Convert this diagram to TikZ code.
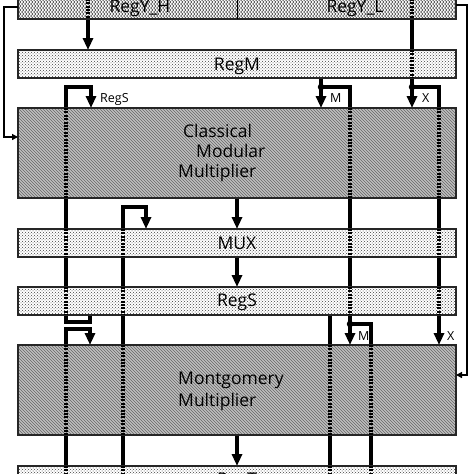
\documentclass[tikz,border=0pt]{standalone}
\usepackage{fontspec}
\setmainfont{Open Sans}
\usetikzlibrary{arrows.meta,patterns}
\pgfdeclarepatternformonly{chev}{\pgfqpoint{-1pt}{-1pt}}{\pgfqpoint{4pt}{5pt}}{\pgfqpoint{3pt}{4pt}}{%
  \pgfsetlinewidth{0.6pt}%
  \pgfpathmoveto{\pgfqpoint{3pt}{0pt}}%
  \pgfpathlineto{\pgfqpoint{0.6pt}{2pt}}%
  \pgfpathlineto{\pgfqpoint{3pt}{4pt}}%
  \pgfusepath{stroke}}
\begin{document}
\begin{tikzpicture}[x=1pt,y=-1pt,
  box/.style={draw=black!85,line width=1.1pt,minimum width=438pt,inner sep=0pt,outer sep=0pt},
  lightbox/.style={box,minimum height=28pt,preaction={fill=white},pattern=crosshatch dots,pattern color=black!75},
  darkbox/.style={box,minimum height=90pt,preaction={fill=gray!50},pattern=north west lines,pattern color=black!60},
  ybox/.style={box,minimum height=45pt,preaction={fill=white},pattern=chev,pattern color=black!70},
  bus/.style={line width=3.8pt},
  busarrow/.style={bus,-{Triangle[width=10pt,length=12pt]}},
  dotbus/.style={line width=3.8pt,dash pattern=on 2pt off 1.4pt},
  thin/.style={line width=1.3pt},
  thinarrow/.style={thin,-{Triangle[width=6pt,length=6pt]}},
  lbl/.style={inner sep=0pt,anchor=base west,font=\fontsize{17.5}{20}\selectfont},
  clbl/.style={inner sep=0pt,anchor=base,font=\fontsize{17.5}{20}\selectfont},
  slbl/.style={inner sep=0pt,anchor=base west,font=\fontsize{12.5}{14}\selectfont},
  jdot/.style={circle,fill=black,inner sep=0pt,minimum size=6.5pt}
]
\useasboundingbox (0,0) rectangle (474,474);
\clip (0,0) rectangle (474,474);

% junction coordinates
\coordinate (jx) at (412,87);
\coordinate (jm) at (321,87);
\coordinate (jm2) at (350,324);

% ---------- solid buses (behind boxes) ----------
\draw[busarrow] (88,-25) -- (88,50);
\draw[busarrow] (412,-25) -- (412,108);
\draw[busarrow] (jx) -| (439,345);
\draw[busarrow] (321,78) -- (321,108);
\draw[bus] (jm) -| (jm2);
\draw[busarrow] (jm2) -- (350,345);
\draw[bus] (jm2) -| (371,494);
\draw[bus] (330,315) -- (330,494);
\draw[busarrow] (66,315) |- (91,87) -- (91,108);
\draw[bus] (66,315) -- (66,322) -- (90,322) -- (90,315);
\draw[busarrow] (66,494) |- (90,329) -- (90,345);
\draw[busarrow] (123,494) |- (146,207) -- (146,229);
\draw[busarrow] (237,198) -- (237,229);
\draw[busarrow] (237,257) -- (237,287);
\draw[busarrow] (237,435) -- (237,466);

% ---------- boxes ----------
\node[ybox] (ry) at (237,-3.5) {};
\draw[line width=0.8pt] (ry.north) -- (ry.south);
\node[lightbox] (rm) at (237,64) {};
\node[darkbox] (cm) at (237,153) {};
\node[lightbox] (mux) at (237,243) {};
\node[lightbox] (rs) at (237,301) {};
\node[darkbox] (mm) at (237,390) {};
\node[lightbox] (rt) at (237,480) {};

% ---------- dotted parts inside boxes ----------
\foreach \x in {88,412} \draw[dotbus] (\x,-25) -- (\x,19);
\draw[dotbus] (412,50) -- (412,78);
\foreach \x in {66,439,350} {
  \draw[dotbus] (\x,108) -- (\x,198);
  \draw[dotbus] (\x,229) -- (\x,257);
  \draw[dotbus] (\x,287) -- (\x,315);
}
\draw[dotbus] (123,229) -- (123,257);
\draw[dotbus] (123,287) -- (123,315);
\foreach \x in {66,123,330,371} {
  \draw[dotbus] (\x,345) -- (\x,435);
  \draw[dotbus] (\x,466) -- (\x,494);
}

% junction dots
\node[jdot] at (jx) {};
\node[jdot] at (jm) {};
\node[jdot] at (jm2) {};

% ---------- outer feedback lines ----------
\draw[thinarrow] (ry.west |- 0,7) -- (4,7) -- (4,137) -- (cm.west |- 0,137);
\draw[thinarrow] (ry.east |- 0,5) -- (467,5) -- (467,375) -- (mm.east |- 0,375);

% ---------- texts ----------
\node[clbl] (tyh) at (140,12) {RegY\_H};
\node[clbl] (tyl) at (355,12) {RegY\_L};
\node[clbl] (trm) at (237,70) {RegM};
\node[lbl] (tc1) at (183,137) {Classical};
\node[lbl] (tc2) at (196,157) {Modular};
\node[lbl] (tc3) at (178,177) {Multiplier};
\node[clbl] (tmux) at (237,249) {MUX};
\node[clbl] (trs) at (237,306) {RegS};
\node[lbl] (tm1) at (178,384) {Montgomery};
\node[lbl] (tm2) at (178,406) {Multiplier};
\node[clbl] (trt) at (237,485) {RegT};
\node[slbl] (lrs) at (100,102) {RegS};
\node[slbl] (lm1) at (330,102) {M};
\node[slbl] (lx1) at (422,102) {X};
\node[slbl] (lm2) at (358,340) {M};
\node[slbl] (lx2) at (447,340) {X};
\end{tikzpicture}
\end{document}
